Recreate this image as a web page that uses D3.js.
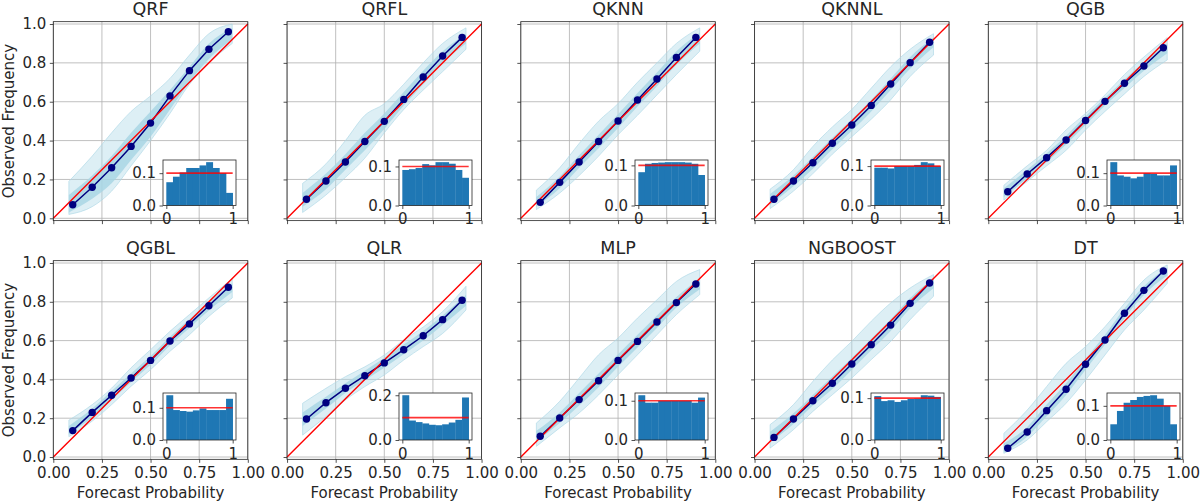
<!DOCTYPE html>
<html>
<head>
<meta charset="utf-8">
<script src="https://cdn.jsdelivr.net/npm/d3@7"></script>
<style>
  body { margin: 0; background: #fff; }
  svg { font-family: "DejaVu Sans", sans-serif; }
</style>
</head>
<body>
<svg id="chart" width="1200" height="503"></svg>
<script>
const models = ["QRF", "QRFL", "QKNN", "QKNNL", "QGB", "QGBL", "QLR", "MLP", "NGBOOST", "DT"];
const forecastProb = [0.1, 0.2, 0.3, 0.4, 0.5, 0.6, 0.7, 0.8, 0.9];
const bandProb = [0.08, 0.2, 0.3, 0.4, 0.5, 0.6, 0.7, 0.8, 0.92];

const observed = [
  [0.07, 0.16, 0.26, 0.37, 0.49, 0.63, 0.76, 0.87, 0.96],
  [0.098, 0.192, 0.29, 0.395, 0.499, 0.612, 0.727, 0.835, 0.931],
  [0.082, 0.185, 0.29, 0.395, 0.501, 0.609, 0.717, 0.828, 0.931],
  [0.098, 0.192, 0.286, 0.386, 0.48, 0.581, 0.691, 0.801, 0.906],
  [0.137, 0.228, 0.312, 0.403, 0.503, 0.602, 0.695, 0.784, 0.878],
  [0.136, 0.23, 0.318, 0.407, 0.498, 0.598, 0.686, 0.78, 0.875],
  [0.196, 0.28, 0.354, 0.419, 0.485, 0.553, 0.625, 0.708, 0.808],
  [0.107, 0.201, 0.296, 0.393, 0.498, 0.596, 0.696, 0.796, 0.892],
  [0.101, 0.196, 0.29, 0.38, 0.479, 0.579, 0.68, 0.792, 0.897],
  [0.045, 0.129, 0.239, 0.349, 0.478, 0.603, 0.741, 0.859, 0.959]
];

// full spread of the bootstrap curves (lower / upper edge)
const bandLow = [
  [0.02, 0.06, 0.14, 0.27, 0.40, 0.54, 0.69, 0.80, 0.90],
  [0.03, 0.12, 0.21, 0.31, 0.44, 0.56, 0.66, 0.755, 0.87],
  [0.045, 0.13, 0.22, 0.32, 0.43, 0.53, 0.635, 0.74, 0.86],
  [0.05, 0.14, 0.23, 0.33, 0.42, 0.51, 0.61, 0.73, 0.84],
  [0.094, 0.19, 0.27, 0.35, 0.455, 0.55, 0.64, 0.73, 0.815],
  [0.105, 0.185, 0.27, 0.365, 0.45, 0.545, 0.63, 0.725, 0.82],
  [0.113, 0.208, 0.294, 0.363, 0.423, 0.5, 0.569, 0.637, 0.758],
  [0.055, 0.15, 0.227, 0.32, 0.424, 0.527, 0.63, 0.734, 0.837],
  [0.046, 0.141, 0.235, 0.321, 0.407, 0.502, 0.596, 0.708, 0.828],
  [0.019, 0.088, 0.182, 0.277, 0.397, 0.526, 0.655, 0.758, 0.895]
];
const bandHigh = [
  [0.19, 0.32, 0.44, 0.55, 0.63, 0.72, 0.84, 0.95, 1.0],
  [0.18, 0.28, 0.40, 0.53, 0.59, 0.69, 0.80, 0.90, 0.98],
  [0.145, 0.26, 0.385, 0.50, 0.59, 0.70, 0.80, 0.90, 0.98],
  [0.15, 0.25, 0.37, 0.47, 0.56, 0.67, 0.78, 0.87, 0.95],
  [0.17, 0.27, 0.35, 0.455, 0.54, 0.635, 0.74, 0.83, 0.93],
  [0.19, 0.27, 0.355, 0.46, 0.553, 0.648, 0.734, 0.82, 0.92],
  [0.277, 0.354, 0.414, 0.465, 0.526, 0.603, 0.67, 0.75, 0.88],
  [0.175, 0.287, 0.407, 0.527, 0.613, 0.716, 0.81, 0.905, 0.966],
  [0.167, 0.27, 0.39, 0.5, 0.596, 0.7, 0.794, 0.871, 0.94],
  [0.122, 0.242, 0.363, 0.483, 0.569, 0.672, 0.792, 0.912, 0.99]
];

// dense core where most bootstrap curves overlap
const coreLow = [
  [0.03, 0.10, 0.18, 0.30, 0.42, 0.56, 0.70, 0.82, 0.92],
  [0.06, 0.15, 0.25, 0.35, 0.46, 0.58, 0.69, 0.80, 0.90],
  [0.06, 0.155, 0.26, 0.36, 0.465, 0.575, 0.68, 0.79, 0.90],
  [0.07, 0.165, 0.255, 0.355, 0.45, 0.55, 0.66, 0.77, 0.88],
  [0.11, 0.205, 0.29, 0.38, 0.48, 0.58, 0.67, 0.76, 0.85],
  [0.115, 0.205, 0.295, 0.385, 0.475, 0.575, 0.665, 0.755, 0.85],
  [0.16, 0.25, 0.33, 0.395, 0.46, 0.53, 0.60, 0.68, 0.78],
  [0.08, 0.175, 0.265, 0.36, 0.465, 0.565, 0.665, 0.77, 0.865],
  [0.075, 0.17, 0.265, 0.35, 0.45, 0.55, 0.65, 0.765, 0.87],
  [0.025, 0.105, 0.21, 0.32, 0.45, 0.58, 0.715, 0.835, 0.935]
];
const coreHigh = [
  [0.12, 0.22, 0.32, 0.44, 0.55, 0.66, 0.78, 0.90, 0.98],
  [0.13, 0.23, 0.33, 0.44, 0.54, 0.65, 0.76, 0.86, 0.95],
  [0.11, 0.215, 0.325, 0.43, 0.535, 0.645, 0.75, 0.86, 0.955],
  [0.125, 0.22, 0.315, 0.415, 0.51, 0.61, 0.72, 0.83, 0.93],
  [0.155, 0.25, 0.335, 0.425, 0.525, 0.62, 0.715, 0.805, 0.90],
  [0.16, 0.25, 0.34, 0.43, 0.52, 0.62, 0.71, 0.80, 0.895],
  [0.23, 0.31, 0.38, 0.445, 0.51, 0.58, 0.65, 0.73, 0.835],
  [0.135, 0.23, 0.33, 0.43, 0.53, 0.63, 0.73, 0.825, 0.92],
  [0.13, 0.225, 0.32, 0.415, 0.51, 0.61, 0.71, 0.82, 0.92],
  [0.07, 0.155, 0.27, 0.38, 0.505, 0.63, 0.765, 0.88, 0.975]
];

// PIT histograms in the insets (10 bins on [0,1])
const pitHist = [
  [0.072, 0.089, 0.102, 0.116, 0.116, 0.124, 0.134, 0.116, 0.1, 0.039],
  [0.091, 0.093, 0.096, 0.106, 0.103, 0.111, 0.111, 0.107, 0.091, 0.071],
  [0.083, 0.104, 0.106, 0.107, 0.108, 0.108, 0.108, 0.107, 0.104, 0.076],
  [0.096, 0.096, 0.094, 0.1, 0.1, 0.1, 0.103, 0.11, 0.107, 0.1],
  [0.134, 0.093, 0.089, 0.084, 0.089, 0.1, 0.098, 0.093, 0.093, 0.124],
  [0.139, 0.093, 0.09, 0.088, 0.092, 0.098, 0.093, 0.093, 0.093, 0.128],
  [0.2, 0.087, 0.08, 0.074, 0.068, 0.066, 0.07, 0.078, 0.09, 0.19],
  [0.114, 0.095, 0.095, 0.1, 0.1, 0.1, 0.1, 0.1, 0.095, 0.108],
  [0.105, 0.093, 0.095, 0.091, 0.095, 0.098, 0.099, 0.107, 0.106, 0.103],
  [0.046, 0.085, 0.109, 0.117, 0.126, 0.129, 0.131, 0.121, 0.1, 0.046]
];
const insetTicks = [
  [0, 0.1], [0, 0.1], [0, 0.1], [0, 0.1], [0, 0.1],
  [0, 0.1], [0, 0.2], [0, 0.1], [0, 0.1], [0, 0.1]
];

const xTicks = [0, 0.25, 0.5, 0.75, 1];
const yTicks = [0, 0.2, 0.4, 0.6, 0.8, 1];
const binEdges = [0, 0.1, 0.2, 0.3, 0.4, 0.5, 0.6, 0.7, 0.8, 0.9, 1];

const svg = d3.select("#chart");

// layout
const colLeft = 53.3, colStep = 233.75, panelW = 194.5;
const rows = [
  { y0: 218.3, y1: 24, insetTop: 160, insetBottom: 205.5 },
  { y0: 457, y1: 263, insetTop: 393, insetBottom: 440 }
];
const insetLeft = 163, insetStep = 236, insetW = 73;
const fontSize = 15;

function styleAxis(a) {
  a.select(".domain").remove();
  a.selectAll("text").attr("font-size", fontSize).attr("fill", "#262626")
    .attr("font-family", "DejaVu Sans");
  a.selectAll("line").attr("stroke", "#262626").attr("stroke-width", 0.8);
}

models.forEach((name, i) => {
  const r = Math.floor(i / 5), c = i % 5;
  const row = rows[r];
  const left = colLeft + c * colStep;

  const x = d3.scaleLinear().domain([0, 1]).range([left, left + panelW]);
  const y = d3.scaleLinear().domain([0, 1]).range([row.y0, row.y1]);
  const top = y(1.012), bottom = y(-0.012);

  const g = svg.append("g");

  // grid
  g.selectAll(".vgrid").data(xTicks).join("line")
    .attr("x1", d => x(d)).attr("x2", d => x(d))
    .attr("y1", top).attr("y2", bottom)
    .attr("stroke", "#b0b0b0").attr("stroke-width", 0.8);
  g.selectAll(".hgrid").data(yTicks).join("line")
    .attr("x1", x(0)).attr("x2", x(1))
    .attr("y1", d => y(d)).attr("y2", d => y(d))
    .attr("stroke", "#b0b0b0").attr("stroke-width", 0.8);

  // bootstrap spread: outer envelope, then dense core
  const outer = d3.area()
    .x((d, j) => x(bandProb[j]))
    .y0((d, j) => y(bandLow[i][j]))
    .y1((d, j) => y(bandHigh[i][j]))
    .curve(d3.curveMonotoneX);
  g.append("path")
    .attr("d", outer(forecastProb))
    .attr("fill", "#add8e6")
    .attr("fill-opacity", 0.42)
    .attr("stroke", "#add8e6")
    .attr("stroke-opacity", 0.8)
    .attr("stroke-width", 0.8);

  const core = d3.area()
    .x((d, j) => x(bandProb[j]))
    .y0((d, j) => y(coreLow[i][j]))
    .y1((d, j) => y(coreHigh[i][j]))
    .curve(d3.curveMonotoneX);
  g.append("path")
    .attr("d", core(forecastProb))
    .attr("fill", "#a6d4e4")
    .attr("fill-opacity", 0.8);

  // main reliability curve
  const line = d3.line()
    .x((d, j) => x(forecastProb[j]))
    .y(d => y(d));
  g.append("path")
    .attr("d", line(observed[i]))
    .attr("fill", "none")
    .attr("stroke", "navy")
    .attr("stroke-width", 1.5);

  // perfect calibration
  g.append("line")
    .attr("x1", x(0)).attr("y1", y(0))
    .attr("x2", x(1)).attr("y2", y(1))
    .attr("stroke", "red").attr("stroke-width", 1.4);

  g.selectAll(".pt").data(observed[i]).join("circle")
    .attr("cx", (d, j) => x(forecastProb[j]))
    .attr("cy", d => y(d))
    .attr("r", 3.7)
    .attr("fill", "navy");

  // axes
  const xAxis = d3.axisBottom(x).tickValues(xTicks).tickSize(3.5).tickPadding(4.5)
    .tickFormat(r === 1 ? d3.format(".2f") : () => "");
  const yAxis = d3.axisLeft(y).tickValues(yTicks).tickSize(3.5).tickPadding(3.5)
    .tickFormat(c === 0 ? d3.format(".1f") : () => "");

  styleAxis(g.append("g").attr("transform", `translate(0,${bottom})`).call(xAxis));
  styleAxis(g.append("g").attr("transform", `translate(${left},0)`).call(yAxis));

  // spines
  g.append("rect")
    .attr("x", x(0)).attr("y", top)
    .attr("width", x(1) - x(0)).attr("height", bottom - top)
    .attr("fill", "none").attr("stroke", "#262626").attr("stroke-width", 0.8);

  // title
  g.append("text")
    .attr("x", (x(0) + x(1)) / 2).attr("y", top - 6.5)
    .attr("text-anchor", "middle")
    .attr("font-size", 17.5).attr("fill", "#262626")
    .text(name);

  if (r === 1) {
    g.append("text")
      .attr("x", (x(0) + x(1)) / 2).attr("y", 498)
      .attr("text-anchor", "middle")
      .attr("font-size", fontSize).attr("fill", "#262626")
      .text("Forecast Probability");
  }
  if (c === 0) {
    g.append("text")
      .attr("transform", `translate(13.5,${(top + bottom) / 2}) rotate(-90)`)
      .attr("text-anchor", "middle")
      .attr("font-size", fontSize).attr("fill", "#262626")
      .text("Observed Frequency");
  }

  // inset PIT histogram
  const il = insetLeft + c * insetStep;
  const ix = d3.scaleLinear().domain([-0.05, 1.05]).range([il, il + insetW]);
  const iy = d3.scaleLinear().domain([0, d3.max(pitHist[i]) * 1.05])
    .range([row.insetBottom, row.insetTop]);

  const ig = svg.append("g");
  ig.append("rect")
    .attr("x", il).attr("y", row.insetTop)
    .attr("width", insetW).attr("height", row.insetBottom - row.insetTop)
    .attr("fill", "#fff");

  ig.selectAll(".bar").data(pitHist[i]).join("rect")
    .attr("x", (d, k) => ix(binEdges[k]))
    .attr("width", (d, k) => ix(binEdges[k + 1]) - ix(binEdges[k]) + 0.3)
    .attr("y", d => iy(d))
    .attr("height", d => iy(0) - iy(d))
    .attr("fill", "#1f77b4");

  ig.append("line")
    .attr("x1", ix(0)).attr("x2", ix(1))
    .attr("y1", iy(0.1)).attr("y2", iy(0.1))
    .attr("stroke", "red").attr("stroke-opacity", 0.8).attr("stroke-width", 1.6);

  styleAxis(ig.append("g").attr("transform", `translate(0,${row.insetBottom})`)
    .call(d3.axisBottom(ix).tickValues([0, 1]).tickSize(3.5).tickPadding(4.5).tickFormat(d3.format("d"))));
  styleAxis(ig.append("g").attr("transform", `translate(${il},0)`)
    .call(d3.axisLeft(iy).tickValues(insetTicks[i]).tickSize(3.5).tickPadding(3.5).tickFormat(d3.format(".1f"))));

  ig.append("rect")
    .attr("x", il).attr("y", row.insetTop)
    .attr("width", insetW).attr("height", row.insetBottom - row.insetTop)
    .attr("fill", "none").attr("stroke", "#262626").attr("stroke-width", 0.8);
});
</script>
</body>
</html>
